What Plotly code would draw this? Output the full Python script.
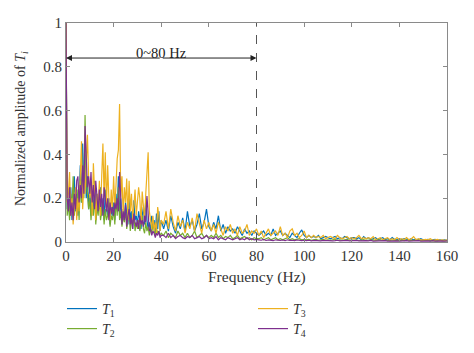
import numpy as np
import plotly.graph_objects as go

# Frequency grid: 0-40 Hz at 0.5 Hz, 41-160 Hz at 1 Hz
freq_low = [i * 0.5 for i in range(81)]
freq_high = list(range(41, 161))
freq = freq_low + freq_high

# ---------- T1 (blue) ----------
t1_low = [1.0, 0.15, 0.2, 0.12, 0.25, 0.1, 0.18, 0.3, 0.14, 0.22, 0.12, 0.2, 0.35, 0.18, 0.45, 0.25, 0.4, 0.2, 0.3, 0.15,
          0.25, 0.12, 0.2, 0.16, 0.28, 0.1, 0.22, 0.14, 0.18, 0.25, 0.12, 0.2, 0.1, 0.24, 0.15, 0.12, 0.2, 0.08, 0.16, 0.12,
          0.18, 0.1, 0.22, 0.14, 0.3, 0.12, 0.2, 0.08, 0.15, 0.1, 0.18, 0.12, 0.08, 0.2, 0.1, 0.14, 0.06, 0.19, 0.1, 0.12,
          0.08, 0.14, 0.1, 0.06, 0.12, 0.16, 0.08, 0.2, 0.1, 0.06, 0.09, 0.05, 0.12, 0.07, 0.1, 0.04, 0.13, 0.06, 0.14, 0.05,
          0.1]
t1_high = [0.06, 0.1, 0.05, 0.12, 0.07, 0.04, 0.09, 0.06, 0.11, 0.05,
           0.14, 0.07, 0.1, 0.05, 0.08, 0.13, 0.06, 0.09, 0.15, 0.07,
           0.05, 0.09, 0.06, 0.12, 0.05, 0.08, 0.04, 0.07, 0.05, 0.06,
           0.04, 0.07, 0.05, 0.03, 0.06, 0.04, 0.05, 0.03, 0.05, 0.04,
           0.03, 0.04, 0.05, 0.03, 0.04, 0.03, 0.06, 0.03, 0.04, 0.05,
           0.03, 0.04, 0.03, 0.02, 0.04, 0.03, 0.02, 0.04, 0.055, 0.03,
           0.02, 0.03, 0.02, 0.025, 0.02, 0.03, 0.015, 0.02, 0.025, 0.02,
           0.015, 0.02, 0.025, 0.015, 0.02, 0.015, 0.025, 0.02, 0.015, 0.02,
           0.02, 0.015, 0.02, 0.01, 0.025, 0.015, 0.02, 0.01, 0.015, 0.02,
           0.01, 0.015, 0.02, 0.01, 0.015, 0.01, 0.02, 0.012, 0.01, 0.015,
           0.01, 0.015, 0.012, 0.01, 0.015, 0.01, 0.012, 0.01, 0.015, 0.01,
           0.01, 0.012, 0.008, 0.01, 0.012, 0.008, 0.01, 0.008, 0.01, 0.008]

# ---------- T2 (green) ----------
t2_low = [1.0, 0.12, 0.18, 0.1, 0.22, 0.15, 0.3, 0.12, 0.2, 0.16, 0.24, 0.1, 0.28, 0.18, 0.35, 0.2, 0.58, 0.3, 0.22, 0.15,
          0.2, 0.1, 0.18, 0.12, 0.22, 0.08, 0.16, 0.12, 0.2, 0.1, 0.14, 0.18, 0.08, 0.15, 0.1, 0.12, 0.18, 0.07, 0.12, 0.1,
          0.15, 0.08, 0.2, 0.12, 0.25, 0.1, 0.14, 0.07, 0.12, 0.09, 0.15, 0.06, 0.1, 0.13, 0.05, 0.1, 0.08, 0.12, 0.05, 0.09,
          0.06, 0.1, 0.05, 0.08, 0.12, 0.06, 0.04, 0.09, 0.05, 0.07, 0.03, 0.06, 0.04, 0.08, 0.05, 0.03, 0.06, 0.04, 0.05, 0.03,
          0.04]
t2_high = [0.03, 0.05, 0.02, 0.04, 0.03, 0.02, 0.05, 0.03, 0.04, 0.02,
           0.04, 0.02, 0.03, 0.05, 0.02, 0.03, 0.04, 0.02, 0.03, 0.02,
           0.03, 0.02, 0.04, 0.02, 0.03, 0.015, 0.025, 0.02, 0.03, 0.015,
           0.02, 0.03, 0.015, 0.02, 0.025, 0.015, 0.02, 0.01, 0.02, 0.015,
           0.015, 0.02, 0.01, 0.015, 0.02, 0.01, 0.015, 0.02, 0.01, 0.015,
           0.01, 0.015, 0.02, 0.01, 0.015, 0.01, 0.012, 0.015, 0.01, 0.012,
           0.01, 0.012, 0.008, 0.01, 0.012, 0.008, 0.01, 0.012, 0.008, 0.01,
           0.008, 0.01, 0.012, 0.008, 0.01, 0.008, 0.01, 0.012, 0.008, 0.01,
           0.008, 0.01, 0.007, 0.009, 0.011, 0.007, 0.009, 0.008, 0.01, 0.007,
           0.008, 0.01, 0.007, 0.009, 0.008, 0.006, 0.009, 0.007, 0.008, 0.006,
           0.008, 0.006, 0.009, 0.007, 0.008, 0.006, 0.007, 0.008, 0.006, 0.007,
           0.006, 0.008, 0.005, 0.007, 0.006, 0.005, 0.007, 0.005, 0.006, 0.005]

# ---------- T3 (yellow) ----------
t3_low = [1.0, 0.18, 0.22, 0.32, 0.12, 0.2, 0.08, 0.17, 0.25, 0.1, 0.2, 0.14, 0.3, 0.46, 0.15, 0.27, 0.22, 0.38, 0.49, 0.3,
          0.2, 0.26, 0.12, 0.36, 0.18, 0.1, 0.22, 0.15, 0.28, 0.12, 0.3, 0.45, 0.2, 0.41, 0.15, 0.35, 0.2, 0.1, 0.24, 0.14,
          0.3, 0.16, 0.26, 0.38, 0.42, 0.63, 0.2, 0.3, 0.12, 0.25, 0.18, 0.29, 0.1, 0.28, 0.14, 0.22, 0.1, 0.2, 0.24, 0.12,
          0.18, 0.25, 0.2, 0.08, 0.23, 0.16, 0.1, 0.22, 0.3, 0.41, 0.14, 0.1, 0.06, 0.12, 0.05, 0.09, 0.04, 0.16, 0.12, 0.05,
          0.1]
t3_high = [0.08, 0.14, 0.06, 0.15, 0.09, 0.05, 0.12, 0.07, 0.1, 0.04,
           0.09, 0.06, 0.11, 0.05, 0.13, 0.08, 0.04, 0.1, 0.06, 0.09,
           0.05, 0.08, 0.04, 0.09, 0.06, 0.03, 0.07, 0.05, 0.08, 0.04,
           0.06, 0.03, 0.07, 0.04, 0.05, 0.08, 0.03, 0.05, 0.04, 0.06,
           0.03, 0.05, 0.02, 0.04, 0.06, 0.03, 0.04, 0.05, 0.03, 0.07,
           0.03, 0.04, 0.02, 0.05, 0.06, 0.03, 0.04, 0.02, 0.03, 0.05,
           0.02, 0.03, 0.02, 0.03, 0.02, 0.025, 0.02, 0.03, 0.015, 0.02,
           0.025, 0.02, 0.015, 0.03, 0.02, 0.015, 0.02, 0.025, 0.015, 0.02,
           0.015, 0.02, 0.03, 0.015, 0.02, 0.015, 0.02, 0.015, 0.025, 0.01,
           0.015, 0.02, 0.01, 0.015, 0.02, 0.01, 0.015, 0.01, 0.02, 0.01,
           0.015, 0.01, 0.02, 0.01, 0.015, 0.025, 0.01, 0.015, 0.01, 0.01,
           0.012, 0.01, 0.015, 0.008, 0.01, 0.012, 0.008, 0.01, 0.008, 0.01]

# ---------- T4 (purple) ----------
t4_low = [1.0, 0.2, 0.14, 0.25, 0.12, 0.18, 0.1, 0.22, 0.15, 0.28, 0.3, 0.18, 0.26, 0.2, 0.35, 0.22, 0.53, 0.38, 0.25, 0.3,
          0.22, 0.32, 0.18, 0.26, 0.15, 0.28, 0.2, 0.14, 0.24, 0.16, 0.22, 0.12, 0.25, 0.18, 0.14, 0.2, 0.1, 0.18, 0.13, 0.16,
          0.12, 0.18, 0.15, 0.2, 0.14, 0.32, 0.16, 0.08, 0.14, 0.1, 0.17, 0.07, 0.12, 0.15, 0.08, 0.11, 0.06, 0.13, 0.09, 0.07,
          0.1, 0.06, 0.12, 0.08, 0.1, 0.07, 0.12, 0.09, 0.21, 0.1, 0.05, 0.06, 0.03, 0.05, 0.04, 0.02, 0.04, 0.03, 0.05, 0.02,
          0.03]
t4_high = [0.03, 0.02, 0.04, 0.02, 0.03, 0.015, 0.025, 0.03, 0.02, 0.015,
           0.025, 0.02, 0.03, 0.015, 0.02, 0.025, 0.015, 0.02, 0.03, 0.015,
           0.02, 0.015, 0.025, 0.01, 0.02, 0.015, 0.01, 0.02, 0.015, 0.01,
           0.015, 0.02, 0.01, 0.015, 0.01, 0.02, 0.01, 0.015, 0.01, 0.012,
           0.01, 0.008, 0.012, 0.007, 0.01, 0.009, 0.006, 0.01, 0.008, 0.007,
           0.009, 0.006, 0.01, 0.007, 0.008, 0.006, 0.009, 0.007, 0.006, 0.008,
           0.006, 0.008, 0.005, 0.007, 0.006, 0.008, 0.005, 0.007, 0.006, 0.005,
           0.007, 0.005, 0.006, 0.008, 0.005, 0.006, 0.005, 0.007, 0.005, 0.006,
           0.005, 0.007, 0.005, 0.006, 0.004, 0.006, 0.005, 0.007, 0.004, 0.005,
           0.006, 0.004, 0.005, 0.006, 0.004, 0.005, 0.006, 0.004, 0.005, 0.004,
           0.005, 0.004, 0.006, 0.004, 0.005, 0.004, 0.005, 0.006, 0.004, 0.005,
           0.004, 0.005, 0.004, 0.006, 0.004, 0.005, 0.004, 0.005, 0.004, 0.005]

series_names = ["<i>T</i><sub>1</sub>", "<i>T</i><sub>2</sub>", "<i>T</i><sub>3</sub>", "<i>T</i><sub>4</sub>"]
series_values = [t1_low + t1_high, t2_low + t2_high, t3_low + t3_high, t4_low + t4_high]
series_colors = ["#0072BD", "#77AC30", "#EDB120", "#7E2F8E"]

W, H = 474, 353
FONT = "Liberation Serif"
# legend slot (left x, row centre y) in pixels, one legend per entry
legend_slots = [(62, 309), (62, 329), (253, 309), (253, 329)]
legend_ids = ["legend", "legend2", "legend3", "legend4"]

fig = go.Figure()
for name, vals, color, lid in zip(series_names, series_values, series_colors, legend_ids):
    fig.add_trace(go.Scatter(x=freq, y=vals, mode="lines", name=name,
                             line=dict(color=color, width=1.2), legend=lid))

axis_common = dict(showline=True, linecolor="#8a8a8a", linewidth=1, mirror="ticks",
                   ticks="inside", ticklen=4, tickcolor="#8a8a8a", showgrid=False,
                   zeroline=False,
                   tickfont=dict(family=FONT, size=15, color="#333333"))

legend_layout = {}
for lid, (lx, ly) in zip(legend_ids, legend_slots):
    legend_layout[lid] = dict(x=lx / W, y=1 - ly / H, xref="container", yref="container",
                              xanchor="left", yanchor="middle", bgcolor="rgba(0,0,0,0)",
                              font=dict(family=FONT, size=14, color="#333333"),
                              orientation="v", itemwidth=30)

fig.update_layout(
    width=W, height=H,
    margin=dict(l=66, r=27, t=23, b=111, autoexpand=False),
    paper_bgcolor="white", plot_bgcolor="white",
    font=dict(family=FONT, size=15, color="#333333"),
    xaxis=dict(range=[0, 160], tickvals=[0, 20, 40, 60, 80, 100, 120, 140, 160], **axis_common),
    yaxis=dict(range=[0, 1], tickvals=[0, 0.2, 0.4, 0.6, 0.8, 1],
               ticktext=["0", "0.2", "0.4", "0.6", "0.8", "1"], **axis_common),
    showlegend=True,
    **legend_layout,
)

# axis titles
fig.add_annotation(x=0.5, y=(242 - 277) / 219, xref="paper", yref="paper", text="Frequency (Hz)",
                   showarrow=False, yanchor="middle", font=dict(family=FONT, size=15.5, color="#333333"))
fig.add_annotation(x=(21 - 66) / 381, y=(242 - 129) / 219, xref="paper", yref="paper",
                   text="Normalized amplitude of <i>T</i><sub><i>i</i></sub>", textangle=-90,
                   showarrow=False, xanchor="center", yanchor="middle",
                   font=dict(family=FONT, size=14, color="#333333"))

# dashed boundary at 80 Hz
fig.add_shape(type="line", x0=80, x1=80, y0=0, y1=1, xref="x", yref="y",
              line=dict(color="#555555", width=1, dash="dash"))

# double-headed arrow 0 - 80 Hz
for tip in (0, 80):
    fig.add_annotation(x=tip, y=0.84, ax=40, ay=0.84, xref="x", yref="y", axref="x", ayref="y",
                       text="", showarrow=True, arrowhead=2, arrowsize=1.2, arrowwidth=1,
                       arrowcolor="#222222")
fig.add_annotation(x=40, y=0.865, xref="x", yref="y", text="0~80 Hz", showarrow=False,
                   font=dict(family=FONT, size=14.5, color="#222222"))

fig.write_html("out.html")
